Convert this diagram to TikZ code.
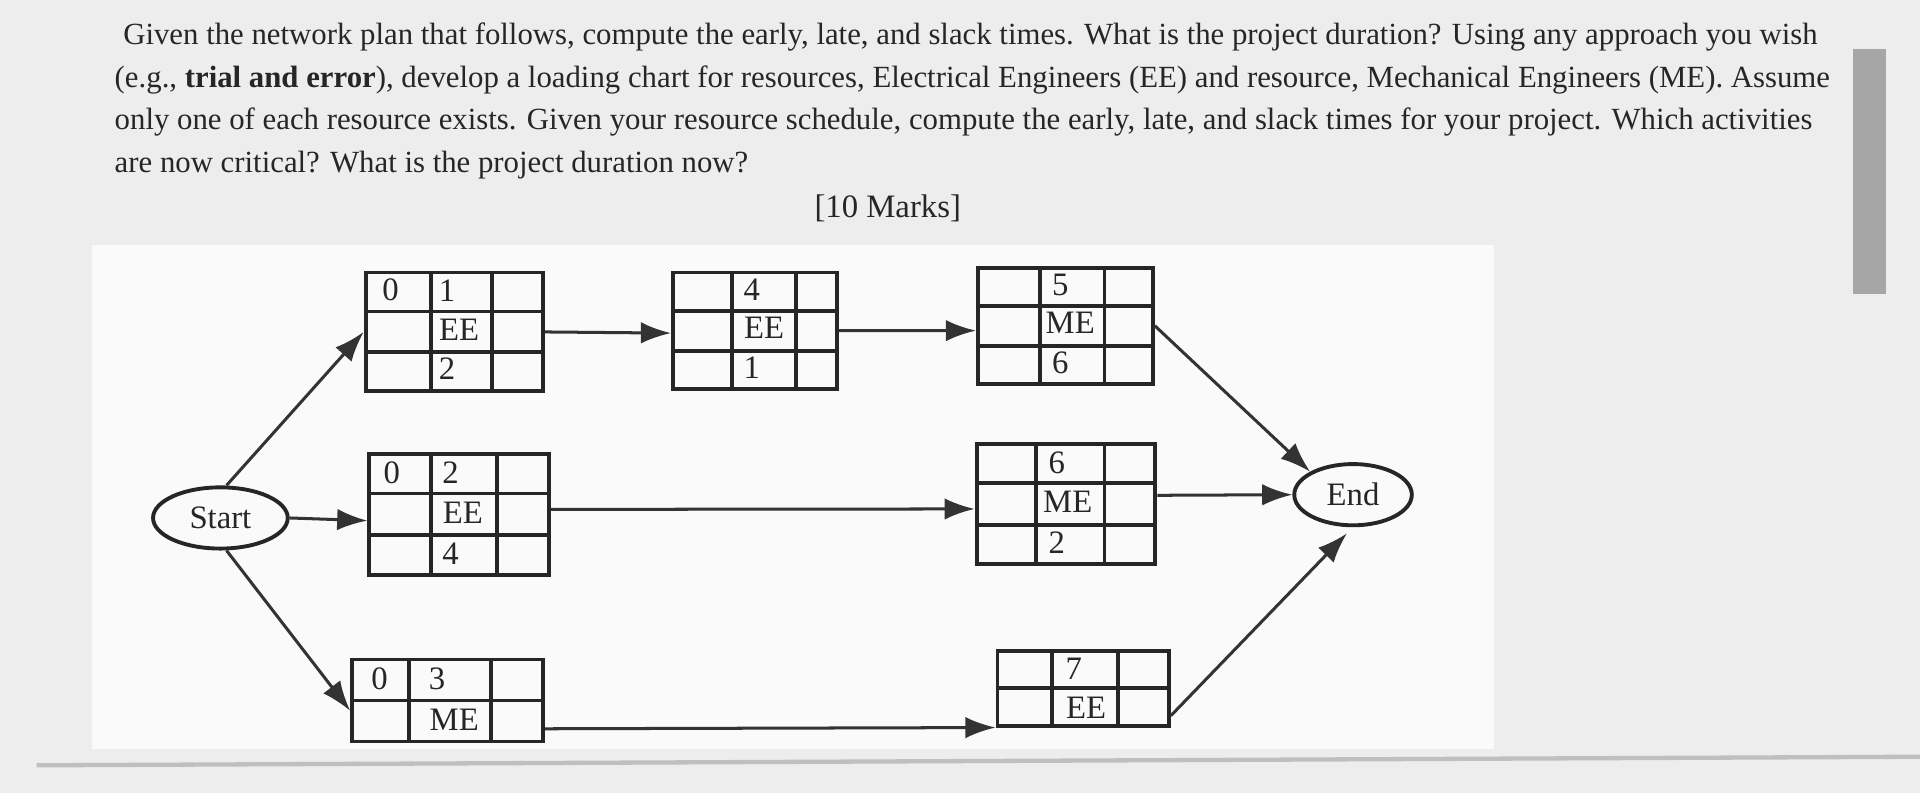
\documentclass[tikz,border=0pt]{standalone}
\usepackage{fontspec}
\setmainfont{Liberation Serif}
\usetikzlibrary{calc,arrows.meta,shapes.geometric}
\tikzset{
 tb/.style={draw=black!85,line width=0.9pt,inner sep=0pt},
 conn/.style={draw=black!80,line width=0.7pt,-{Latex[length=7pt,width=5pt]}},
 txt/.style={font=\fontsize{7.15pt}{9pt}\selectfont,anchor=west,inner sep=0pt,text=black!85},
 lab/.style={font=\fontsize{7.6pt}{9pt}\selectfont,inner sep=0pt,text=black!85},
 ev/.style={draw=black!85,line width=0.9pt,ellipse,inner sep=0pt,font=\fontsize{7.6pt}{9pt}\selectfont,text=black!85}
}
% name,x,y,W,H,c1,c2,nrows
\newcommand\gbox[8]{%
 \node[tb,anchor=north west,minimum width=#4*0.01cm,minimum height=#5*0.01cm] (#1) at (#2,#3) {};
 \draw[tb] ($(#1.north west)+(#6,0)$) -- ($(#1.south west)+(#6,0)$);
 \draw[tb] ($(#1.north west)+(#7,0)$) -- ($(#1.south west)+(#7,0)$);
 \foreach \r in {2,...,#8}{\draw[tb] ($(#1.north west)!{(\r-1)/#8}!(#1.south west)$) -- ($(#1.north east)!{(\r-1)/#8}!(#1.south east)$);}
}
\begin{document}
\begin{tikzpicture}[x=0.01cm,y=-0.01cm]
\useasboundingbox (0,0) rectangle (1568,648);
\fill[black!7] (0,0) rectangle (1568,648);
\fill[black!2] (75,200) rectangle (1220,612);
\fill[black!35] (1513,40) rectangle (1540,240);
\draw[black!25,line width=1pt] (30,625) -- (1568,618);
\node[txt] (l1) at (100,30) {Given the network plan that follows, compute the early, late, and slack times. What is the project duration? Using any approach you wish};
\node[txt] (l2) at (93,65) {(e.g., \textbf{trial and error}), develop a loading chart for resources, Electrical Engineers (EE) and resource, Mechanical Engineers (ME). Assume};
\node[txt] (l3) at (93,100) {only one of each resource exists. Given your resource schedule, compute the early, late, and slack times for your project. Which activities};
\node[txt] (l4) at (93,135) {are now critical? What is the project duration now?};
\node[lab] (marks) at (725,170) {[10 Marks]};

\gbox{A}{297}{221}{145}{97}{55}{105}{3}
\node[lab] at (319,237) {0}; \node[lab] at (365,237) {1};
\node[lab] at (375,269) {EE}; \node[lab] at (365,301) {2};
\gbox{B}{548}{221}{134}{95}{50}{102}{3}
\node[lab] at (614,237) {4}; \node[lab] at (624,268) {EE}; \node[lab] at (614,300) {1};
\gbox{C}{797}{217}{143}{95}{52}{105}{3}
\node[lab] at (866,233) {5}; \node[lab] at (874,264) {ME}; \node[lab] at (866,296) {6};
\gbox{D}{300}{369}{147}{99}{52}{106}{3}
\node[lab] at (320,386) {0}; \node[lab] at (368,386) {2};
\node[lab] at (378,419) {EE}; \node[lab] at (368,452) {4};
\gbox{E}{796}{361}{146}{98}{50}{106}{3}
\node[lab] at (863,378) {6}; \node[lab] at (872,410) {ME}; \node[lab] at (863,443) {2};
\gbox{F}{286}{537}{156}{67}{48}{115}{2}
\node[lab] at (310,554) {0}; \node[lab] at (357,554) {3}; \node[lab] at (371,588) {ME};
\gbox{G}{813}{530}{140}{61}{46}{100}{2}
\node[lab] at (877,546) {7}; \node[lab] at (887,578) {EE};

\node[ev,minimum width=110*0.01cm,minimum height=50*0.01cm] (start) at (180,423) {Start};
\node[ev,minimum width=96*0.01cm,minimum height=50*0.01cm] (end) at (1105,404) {End};

\draw[conn] ($(start.north)+(5,0)$) -- ($(A.north west)!0.5!(A.south west)$);
\draw[conn] (start.east) -- ($(D.north west)!0.55!(D.south west)$);
\draw[conn] ($(start.south)+(5,0)$) -- ($(F.north west)!0.62!(F.south west)$);
\draw[conn] ($(A.north east)!0.5!(A.south east)$) -- ($(B.north west)!0.52!(B.south west)$);
\draw[conn] ($(B.north east)!0.5!(B.south east)$) -- ($(C.north west)!0.54!(C.south west)$);
\draw[conn] ($(D.north east)!0.46!(D.south east)$) -- ($(E.north west)!0.54!(E.south west)$);
\draw[conn] ($(F.south east)+(0,-12)$) -- (G.south west);
\draw[conn] ($(C.north east)!0.5!(C.south east)$) -- (end.north west);
\draw[conn] ($(E.north east)!0.43!(E.south east)$) -- (end.west);
\draw[conn] ($(G.north east)!0.85!(G.south east)$) -- ($(end.south)+(-5,5)$);
\end{tikzpicture}
\end{document}
